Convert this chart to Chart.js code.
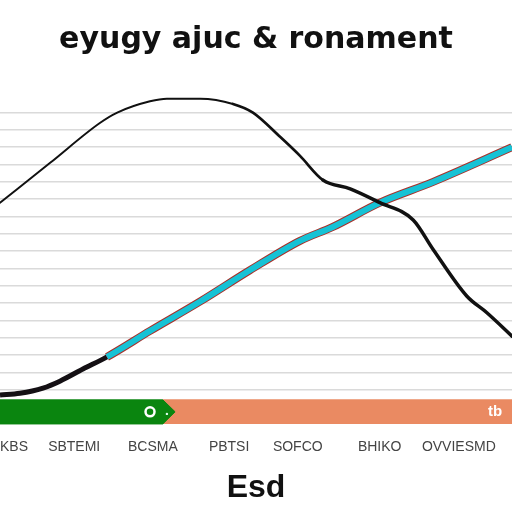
<!DOCTYPE html>
<html>
<head>
<meta charset="utf-8">
<script src="https://cdn.jsdelivr.net/npm/chart.js@4/dist/chart.umd.min.js"></script>
<style>
  html, body { margin: 0; padding: 0; background: #fff; }
  canvas { display: block; }
</style>
</head>
<body>
<canvas id="chart" width="512" height="512"></canvas>
<script>
/* chart data */
const xLabels   = ['KBS', 'SBTEMI', 'BCSMA', 'PBTSI', 'SOFCO', 'BHIKO', 'OVVIESMD'];
const xLabelPos = [0, 9.4, 25.0, 40.8, 53.3, 69.9, 82.4];   // left edge of each label
const yGrid     = [0, 1, 2, 3, 4, 5, 6, 7, 8, 9, 10, 11, 12, 13, 14, 15, 16];

// black hump line
const peakX = [0, 9.8, 19.5, 22.9, 29.3, 32.6, 39.1, 45.5, 49.4, 54.7, 58.6, 63.1, 68.4, 74.2, 80.7, 84.6, 91.2, 95.1, 100];
const peakY = [10.8, 13.1, 15.4, 16.0, 16.65, 16.8, 16.8, 16.5, 16.0, 14.6, 13.5, 12.1, 11.6, 10.8, 9.8, 8.1, 5.4, 4.45, 3.1];

// rising line: black at first, then cyan with a red edge
const riseX = [0, 3.9, 8.4, 11.7, 16.2, 20.9, 29.3, 39.1, 48.8, 58.6, 65.0, 74.2, 84.6, 100];
const riseY = [-0.3, -0.2, 0.1, 0.5, 1.2, 1.9, 3.4, 5.1, 6.9, 8.6, 9.4, 10.8, 12.0, 14.0];
const riseSplit = 20.9;

// band under the plot
const bandTop = -0.58, bandMid = -1.27, bandBottom = -1.97;
const greenX  = [0, 31.8, 34.2, 31.8, 0];
const greenY  = [bandTop, bandTop, bandMid, bandBottom, bandBottom];
const orangeX = [31.8, 100];
const orangeY = [bandTop, bandTop];
const ringX = [29.3], ringY = [bandMid];
const dotX  = [32.6], dotY  = [-1.39];
const noteX = 96.7, noteY = bandMid, noteText = 'tb';

const pts = (xs, ys) => xs.map((x, i) => ({ x, y: ys[i] }));

const bandNote = {
  id: 'bandNote',
  afterDatasetsDraw(chart) {
    const { ctx, scales } = chart;
    ctx.save();
    ctx.fillStyle = '#fff';
    ctx.font = 'bold 15px "Liberation Sans"';
    ctx.textAlign = 'center';
    ctx.textBaseline = 'middle';
    ctx.fillText(noteText, scales.x.getPixelForValue(noteX), scales.y.getPixelForValue(noteY));
    ctx.restore();
  }
};

new Chart(document.getElementById('chart'), {
  type: 'line',
  data: {
    datasets: [
      {
        data: pts(dotX, dotY),
        showLine: false, pointRadius: 1.2,
        pointBackgroundColor: '#dfe', pointBorderWidth: 0
      },
      {
        data: pts(ringX, ringY),
        showLine: false, pointRadius: 4.5,
        pointBackgroundColor: '#0a850f', pointBorderColor: '#fff', pointBorderWidth: 2.5
      },
      {
        data: pts(peakX, peakY),
        borderColor: '#111', borderWidth: 2.5, borderCapStyle: 'round', borderJoinStyle: 'round',
        cubicInterpolationMode: 'monotone', pointRadius: 0,
        segment: { borderWidth: c => c.p0.parsed.x < 45 ? 2 : (c.p0.parsed.x < 60 ? 2.7 : 3.5) }
      },
      {
        data: pts(riseX, riseY),
        borderWidth: 6, cubicInterpolationMode: 'monotone', pointRadius: 0,
        segment: { borderColor: c => c.p0.parsed.x < riseSplit ? 'rgba(0,0,0,0)' : '#16c2d5' }
      },
      {
        data: pts(riseX, riseY),
        borderWidth: 8, cubicInterpolationMode: 'monotone', pointRadius: 0,
        segment: {
          borderColor: c => c.p0.parsed.x < riseSplit ? '#141014' : '#a8302a',
          borderWidth: c => c.p0.parsed.x < riseSplit ? 5 : 8
        }
      },
      {
        data: pts(greenX, greenY),
        borderColor: '#0a850f', borderWidth: 1, backgroundColor: '#0a850f',
        fill: 'shape', tension: 0, pointRadius: 0
      },
      {
        data: pts(orangeX, orangeY),
        borderColor: '#ea8a62', borderWidth: 1, backgroundColor: '#ea8a62',
        fill: { value: bandBottom }, tension: 0, pointRadius: 0
      }
    ]
  },
  options: {
    responsive: false, animation: false,
    layout: { padding: 0, autoPadding: false },
    plugins: {
      legend: { display: false },
      tooltip: { enabled: false },
      title: {
        display: true, text: 'eyugy ajuc & ronament', color: '#111',
        font: { family: 'DejaVu Sans', size: 30, weight: 'bold' },
        padding: { top: 22, bottom: 39 }
      }
    },
    scales: {
      x: {
        type: 'linear', min: 0, max: 100,
        grid: { display: false, drawTicks: true, tickLength: 12.6 },
        border: { display: false },
        afterBuildTicks: axis => { axis.ticks = xLabelPos.map(v => ({ value: v })); },
        ticks: {
          autoSkip: false, maxRotation: 0, padding: 0, align: 'start',
          color: '#444', font: { family: 'Liberation Sans', size: 14 },
          callback: (v, i) => xLabels[i]
        },
        title: {
          display: true, text: 'Esd', color: '#111',
          font: { family: 'Liberation Sans', size: 32, weight: 'bold' },
          padding: { top: 13, bottom: 5 }
        }
      },
      y: {
        min: -2.1, max: 16.9,
        afterBuildTicks: axis => { axis.ticks = yGrid.map(v => ({ value: v })); },
        grid: { color: '#dadada', lineWidth: 1.5, drawTicks: false },
        border: { display: false },
        ticks: { display: false }
      }
    }
  },
  plugins: [bandNote]
});
</script>
</body>
</html>
